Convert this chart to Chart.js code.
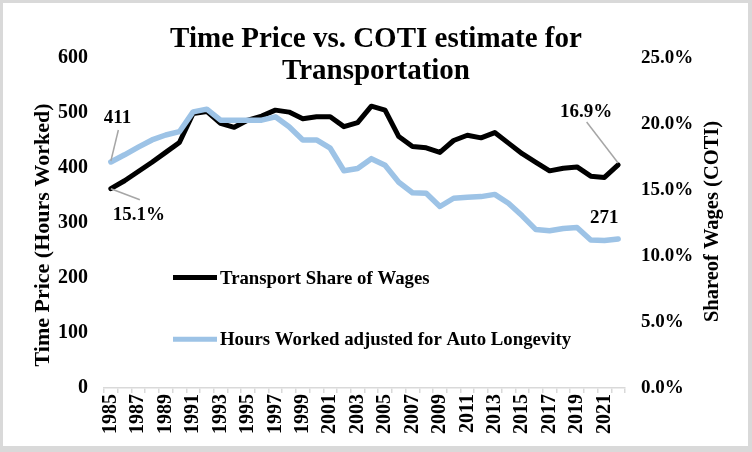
<!DOCTYPE html>
<html><head><meta charset="utf-8">
<script src="https://cdn.jsdelivr.net/npm/chart.js@4.4.0/dist/chart.umd.min.js"></script>
<style>html,body{margin:0;padding:0;background:#fff;}#wrap{width:752px;height:452px;}</style>
</head><body><div id="wrap"><canvas id="c" width="752" height="452"></canvas></div>
<script>
const years = ['1985','1986','1987','1988','1989','1990','1991','1992','1993','1994','1995','1996','1997','1998','1999','2000','2001','2002','2003','2004','2005','2006','2007','2008','2009','2010','2011','2012','2013','2014','2015','2016','2017','2018','2019','2020','2021','2022'];
const hoursWorked = [411,424,438,451,460,466,502,507,487,487,487,487,493,475,451,451,436,395,399,417,405,374,355,354,330,345,347,348,352,336,313,288,286,290,292,269,268,271];
const shareOfWages = [15.1,15.7,16.4,17.1,17.85,18.6,20.8,20.95,20.05,19.75,20.3,20.6,21.05,20.9,20.4,20.55,20.55,19.8,20.1,21.35,21.05,19.05,18.3,18.2,17.85,18.75,19.15,18.95,19.35,18.55,17.75,17.1,16.45,16.65,16.75,16.05,15.95,16.9];
const leftTicks = [0,100,200,300,400,500,600];
const rightTicks = [0,5,10,15,20,25];
const titleLines = ['Time Price vs. COTI estimate for','Transportation'];
const leftAxisTitle = 'Time Price (Hours Worked)';
const rightAxisTitle = 'Shareof Wages (COTI)';
const seriesNames = ['Transport Share of Wages','Hours Worked adjusted for Auto Longevity'];

const FONT = "'Liberation Serif', 'Times New Roman', serif";
const BLUE = '#9DC3E6';
const GRAY = '#D9D9D9';
Chart.defaults.font.family = FONT;
Chart.defaults.font.weight = 'bold';
Chart.defaults.color = '#000';

const bgPlugin = {
  id: 'bg',
  beforeDraw(c) {
    const g = c.ctx; g.save();
    g.fillStyle = GRAY; g.fillRect(0, 0, c.width, c.height);
    g.fillStyle = '#fff'; g.fillRect(3, 3, 745, 443);
    g.restore();
  }
};

function txt(g, s, x, y, size, align, rot) {
  g.save();
  g.font = 'bold ' + size + 'px ' + FONT;
  g.fillStyle = '#000';
  g.textAlign = align || 'center';
  g.textBaseline = 'alphabetic';
  g.translate(x, y);
  if (rot) g.rotate(rot);
  g.fillText(s, 0, 0);
  g.restore();
}
function leader(g, x1, y1, x2, y2) {
  g.save(); g.strokeStyle = '#A6A6A6'; g.lineWidth = 1.5;
  g.beginPath(); g.moveTo(x1, y1); g.lineTo(x2, y2); g.stroke(); g.restore();
}

const decorPlugin = {
  id: 'decor',
  afterDraw(c) {
    const g = c.ctx;
    txt(g, titleLines[0], 376, 47, 29);
    txt(g, titleLines[1], 376, 79, 29);
    g.save(); g.font = 'bold 22px ' + FONT; g.textAlign = 'center'; g.textBaseline = 'middle';
    g.translate(43, 235); g.rotate(-Math.PI / 2); g.fillText(leftAxisTitle, 0, 0); g.restore();
    g.save(); g.font = 'bold 20.5px ' + FONT; g.textAlign = 'center'; g.textBaseline = 'middle';
    g.translate(713, 221.5); g.rotate(-Math.PI / 2); g.fillText(rightAxisTitle, 0, 0); g.restore();
    const legY = [277.5, 339.3];
    const legColors = ['#000', BLUE];
    for (let i = 0; i < 2; i++) {
      g.save(); g.strokeStyle = legColors[i]; g.lineWidth = 5;
      g.beginPath(); g.moveTo(173, legY[i]); g.lineTo(217, legY[i]); g.stroke(); g.restore();
      txt(g, seriesNames[i], 220, legY[i] + 6, 18.8, 'left');
    }
    const share = c.getDatasetMeta(0).data;
    const hrs = c.getDatasetMeta(1).data;
    const n = years.length - 1;
    const b0 = hrs[0], s0 = share[0], sN = share[n], bN = hrs[n];
    leader(g, b0.x + 7.5, b0.y - 32, b0.x, b0.y - 1);
    txt(g, String(hoursWorked[0]), b0.x + 6.6, b0.y - 39, 19);
    leader(g, s0.x, s0.y, s0.x + 29, s0.y + 11);
    txt(g, shareOfWages[0].toFixed(1) + '%', s0.x + 28, s0.y + 31, 19);
    leader(g, sN.x - 31.5, sN.y - 43, sN.x, sN.y - 2);
    txt(g, shareOfWages[n].toFixed(1) + '%', sN.x - 32, sN.y - 48.2, 19);
    txt(g, String(hoursWorked[n]), bN.x - 14, bN.y - 15.6, 19);
  }
};

new Chart(document.getElementById('c'), {
  type: 'line',
  data: {
    labels: years,
    datasets: [
      { label: seriesNames[0], data: shareOfWages, yAxisID: 'yR', borderColor: '#000', backgroundColor: '#000',
        borderWidth: 5, pointRadius: 0, tension: 0, order: 1, borderJoinStyle: 'round', borderCapStyle: 'round' },
      { label: seriesNames[1], data: hoursWorked, yAxisID: 'yL', borderColor: BLUE, backgroundColor: BLUE,
        borderWidth: 5.5, pointRadius: 0, tension: 0, order: 0, borderJoinStyle: 'round', borderCapStyle: 'round' }
    ]
  },
  options: {
    responsive: false, animation: false, devicePixelRatio: 1,
    layout: { padding: { left: 0, right: 0, top: 58, bottom: 0 } },
    plugins: { legend: { display: false }, title: { display: false }, tooltip: { enabled: false } },
    scales: {
      x: {
        type: 'category', offset: true,
        grid: { display: true, offset: true, drawOnChartArea: false, drawTicks: true, tickLength: 5, color: GRAY, lineWidth: 1.5 },
        border: { display: true, color: GRAY, width: 1.5 },
        ticks: { autoSkip: false, minRotation: 90, maxRotation: 90, padding: 1, font: { size: 20, weight: 'bold' },
          callback: function (v, i) { return i % 2 === 0 ? this.getLabelForValue(v) : ''; } },
        afterFit: s => { s.height = 64; }
      },
      yL: {
        position: 'left', min: leftTicks[0], max: leftTicks[leftTicks.length - 1],
        ticks: { stepSize: leftTicks[1] - leftTicks[0], padding: 16, font: { size: 20, weight: 'bold' } },
        grid: { display: false, drawTicks: false }, border: { display: false },
        afterFit: s => { s.width = 104; }
      },
      yR: {
        position: 'right', min: rightTicks[0], max: rightTicks[rightTicks.length - 1],
        ticks: { stepSize: rightTicks[1] - rightTicks[0], padding: 16, font: { size: 19, weight: 'bold' },
          callback: v => Number(v).toFixed(1) + '%' },
        grid: { display: false, drawTicks: false }, border: { display: false },
        afterFit: s => { s.width = 127; }
      }
    }
  },
  plugins: [bgPlugin, decorPlugin]
});
</script></body></html>
